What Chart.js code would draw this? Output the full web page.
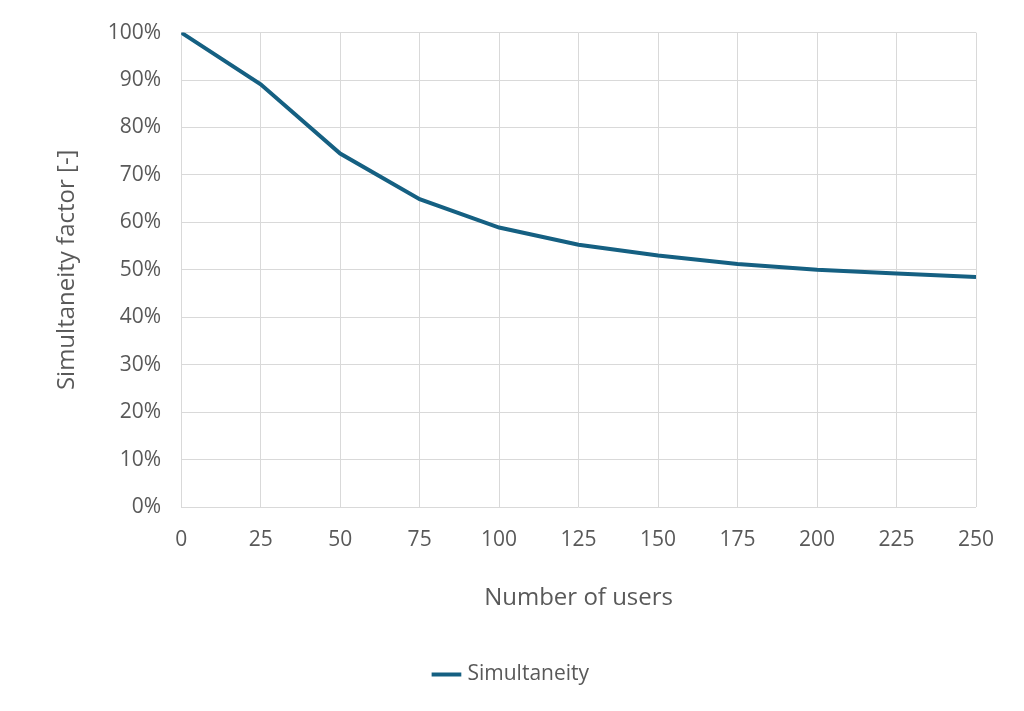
<!DOCTYPE html>
<html><head><meta charset="utf-8">
<script src="https://cdn.jsdelivr.net/npm/chart.js@4"></script>
<style>html,body{margin:0;padding:0;background:#fff}#w{width:1024px;height:711px}</style>
</head><body><div id="w"><canvas id="c"></canvas></div>
<script>
const users=[0,25,50,75,100,125,150,175,200,225,250];
const simultaneity=[100,89.1,74.5,64.9,58.9,55.3,53.0,51.2,50.0,49.2,48.5];
const seriesName='Simultaneity';
const xTitle='Number of users';
const yTitle='Simultaneity factor [-]';
const font='"Open Sans", sans-serif';
const grey='#595959';
new Chart(document.getElementById('c'),{
 type:'line',
 data:{datasets:[{label:seriesName,data:users.map((u,i)=>({x:u,y:simultaneity[i]})),borderColor:'#156082',backgroundColor:'#156082',borderWidth:4,pointRadius:0,tension:0}]},
 options:{responsive:true,maintainAspectRatio:false,animation:false,
  layout:{padding:{left:49,right:48,top:25,bottom:16}},
  plugins:{legend:{position:'bottom',labels:{usePointStyle:true,pointStyle:'line',boxWidth:50,color:grey,font:{family:font,size:21},padding:47}}},
  scales:{
   x:{type:'linear',min:0,max:250,ticks:{stepSize:25,color:grey,font:{family:font,size:21},padding:20},grid:{color:'#d9d9d9',drawTicks:false},border:{display:false},
      title:{display:true,text:xTitle,color:grey,font:{family:font,size:24},padding:{top:12}}},
   y:{min:0,max:100,ticks:{stepSize:10,callback:v=>v+'%',color:grey,font:{family:font,size:21},padding:20},grid:{color:'#d9d9d9',drawTicks:false},border:{display:false},
      title:{display:true,text:yTitle,color:grey,font:{family:font,size:24},padding:{bottom:6}}}
  }}
});
</script></body></html>
